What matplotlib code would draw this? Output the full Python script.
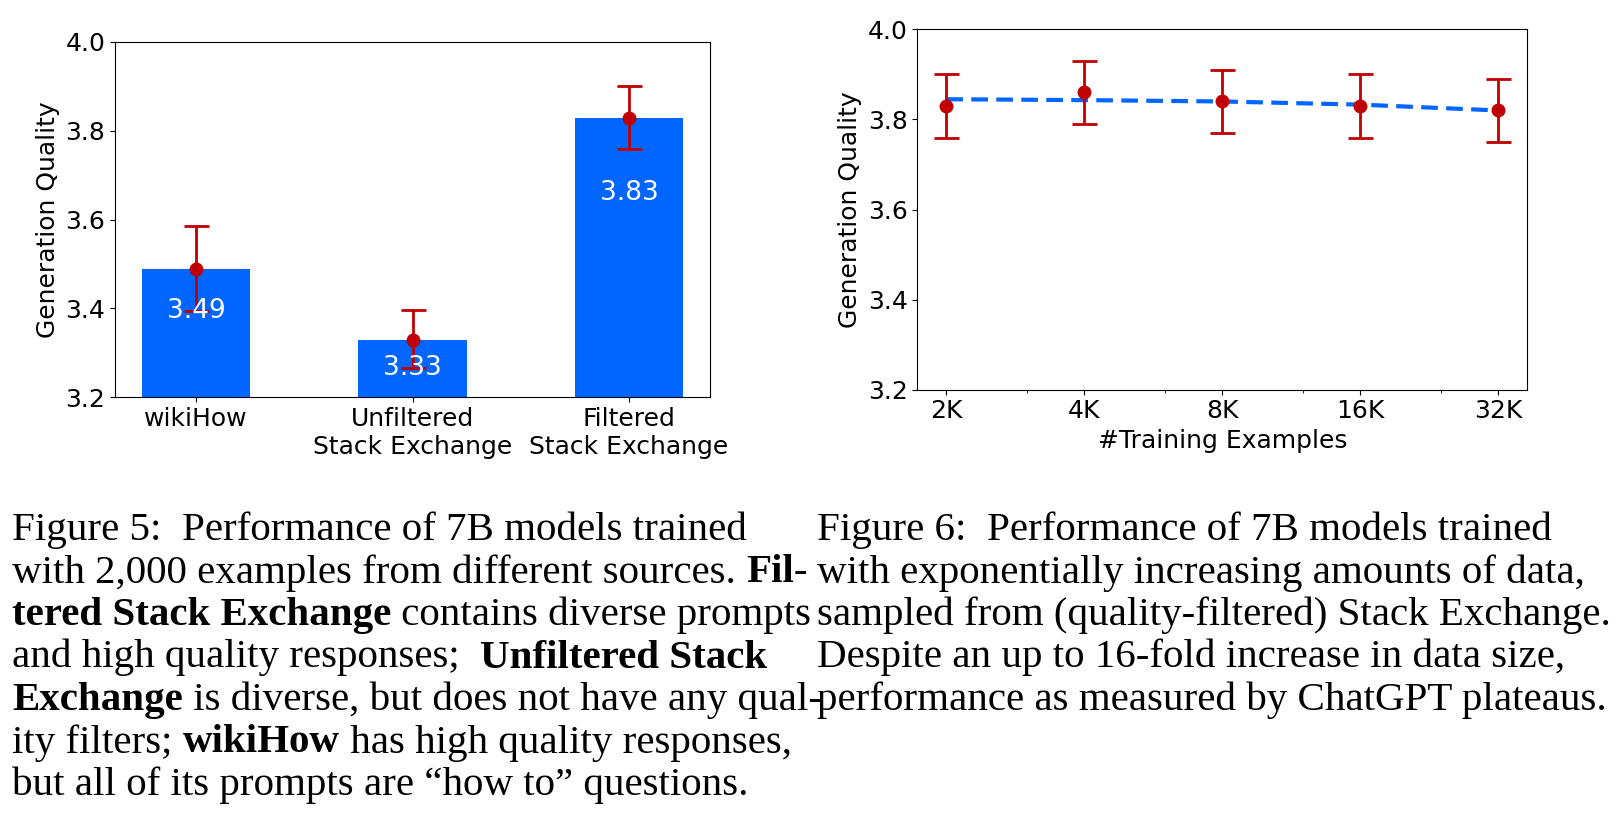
import numpy as np
import matplotlib
matplotlib.use("Agg")
import matplotlib.pyplot as plt

categories = ["wikiHow", "Unfiltered\nStack Exchange", "Filtered\nStack Exchange"]
bar_means = [3.49, 3.33, 3.83]
bar_err_lo = [3.395, 3.265, 3.76]
bar_err_hi = [3.585, 3.397, 3.90]
bar_label_y = [3.395, 3.265, 3.66]

sizes = [2000, 4000, 8000, 16000, 32000]
size_labels = ["2K", "4K", "8K", "16K", "32K"]
line_means = [3.83, 3.86, 3.84, 3.83, 3.82]
line_err_lo = [3.76, 3.79, 3.77, 3.76, 3.75]
line_err_hi = [3.90, 3.93, 3.91, 3.90, 3.89]
trend = [3.845, 3.843, 3.840, 3.833, 3.820]

RED = "#c00000"
BLUE = "#0066ff"
FS = 18

fig = plt.figure(figsize=(16.18, 8.4), dpi=100)

ax1 = fig.add_axes([0.071, 0.527, 0.368, 0.423])
x = np.arange(len(categories))
ax1.bar(x, [m - 3.2 for m in bar_means], bottom=3.2, width=0.5, color=BLUE)
yerr = [np.array(bar_means) - np.array(bar_err_lo), np.array(bar_err_hi) - np.array(bar_means)]
ax1.errorbar(x, bar_means, yerr=yerr, fmt="o", color=RED, ms=9, capsize=9, elinewidth=2, capthick=2)
for xi, m, ly in zip(x, bar_means, bar_label_y):
    ax1.text(xi, ly, f"{m:.2f}", ha="center", va="center", color="white", fontsize=FS + 1)
ax1.set_ylim(3.2, 4.0)
ax1.set_xlim(-0.375, 2.375)
ax1.set_xticks(x)
ax1.set_xticklabels(categories, fontsize=FS)
ax1.set_yticks([3.2, 3.4, 3.6, 3.8, 4.0])
ax1.tick_params(labelsize=FS)
ax1.set_ylabel("Generation Quality", fontsize=FS)

ax2 = fig.add_axes([0.567, 0.536, 0.377, 0.429])
ax2.set_xscale("log", base=2)
ax2.plot(sizes, trend, "--", color=BLUE, lw=3, dashes=(4, 2))
yerr2 = [np.array(line_means) - np.array(line_err_lo), np.array(line_err_hi) - np.array(line_means)]
ax2.errorbar(sizes, line_means, yerr=yerr2, fmt="o", color=RED, ms=9, capsize=9, elinewidth=2, capthick=2)
ax2.set_ylim(3.2, 4.0)
ax2.set_xlim(1730, 37000)
ax2.set_xticks(sizes)
ax2.set_xticklabels(size_labels)
ax2.set_xticks([3000, 6000, 12000, 24000], minor=True)
ax2.set_xticklabels([], minor=True)
ax2.set_yticks([3.2, 3.4, 3.6, 3.8, 4.0])
ax2.tick_params(labelsize=FS)
ax2.set_xlabel("#Training Examples", fontsize=FS)
ax2.set_ylabel("Generation Quality", fontsize=FS)

SERIF = "Liberation Serif"
CFS = 29.5
cap1 = [
    [("Figure 5:  Performance of 7B models trained", False)],
    [("with 2,000 examples from different sources. ", False), ("Fil-", True)],
    [("tered Stack Exchange", True), (" contains diverse prompts", False)],
    [("and high quality responses;  ", False), ("Unfiltered Stack", True)],
    [("Exchange", True), (" is diverse, but does not have any qual-", False)],
    [("ity filters; ", False), ("wikiHow", True), (" has high quality responses,", False)],
    [("but all of its prompts are \u201chow to\u201d questions.", False)],
]
cap2 = [
    [("Figure 6:  Performance of 7B models trained", False)],
    [("with exponentially increasing amounts of data,", False)],
    [("sampled from (quality-filtered) Stack Exchange.", False)],
    [("Despite an up to 16-fold increase in data size,", False)],
    [("performance as measured by ChatGPT plateaus.", False)],
]
fig.canvas.draw()
r = fig.canvas.get_renderer()

def draw_caption(lines, x0_px, y0_px):
    for i, segs in enumerate(lines):
        xp = x0_px
        yp = 840 - (y0_px + i * 42.5)
        for s, b in segs:
            t = fig.text(xp / 1618, yp / 840, s, fontsize=CFS, family=SERIF,
                         weight="bold" if b else "normal", va="baseline", ha="left")
            bb = t.get_window_extent(r)
            xp += bb.width

draw_caption(cap1, 12, 540)
draw_caption(cap2, 817, 540)

fig.savefig("out.png", dpi=100)
